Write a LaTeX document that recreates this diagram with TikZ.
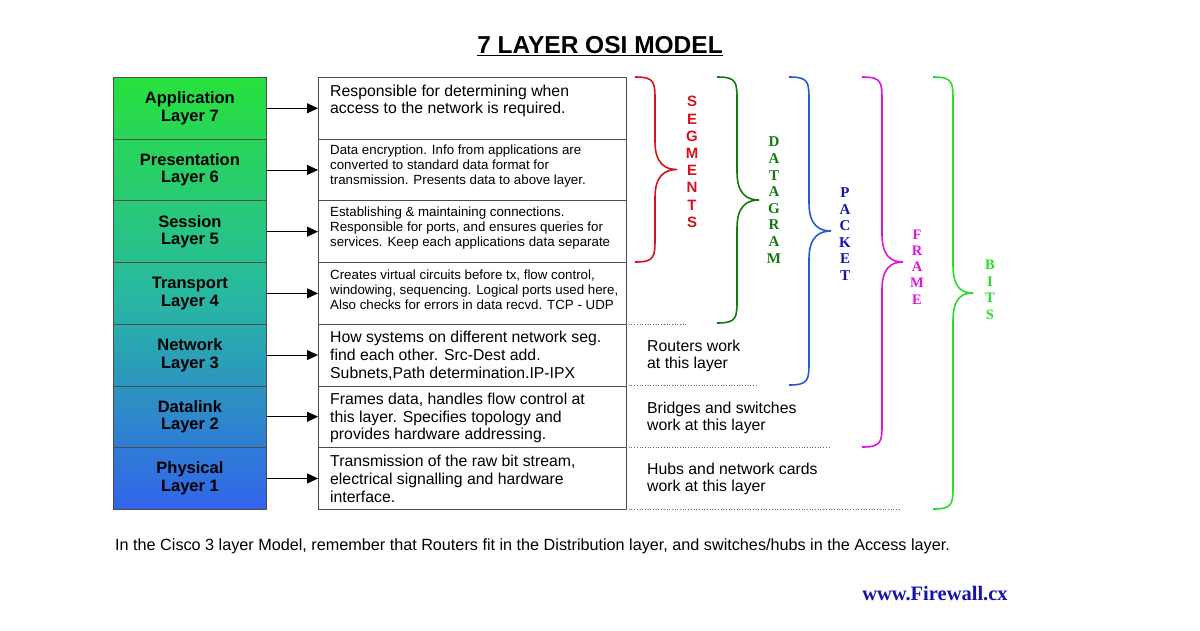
\documentclass[tikz,border=0pt]{standalone}
\usepackage{fontspec}
\setmainfont{Liberation Sans}
\newfontfamily\serifb{Liberation Serif}
\usetikzlibrary{arrows.meta}
\definecolor{cred}{RGB}{210,20,30}
\definecolor{cdgreen}{RGB}{20,120,20}
\definecolor{cblue}{RGB}{40,90,210}
\definecolor{cpblue}{RGB}{20,20,170}
\definecolor{cmag}{RGB}{220,20,220}
\definecolor{clgreen}{RGB}{40,220,40}
\definecolor{gtop}{RGB}{40,225,60}
\definecolor{gmid}{RGB}{40,185,160}
\definecolor{gbot}{RGB}{50,100,235}
\newcommand{\mybrace}[5]{% x0 ytop ybot xtip colour
  \pgfmathsetmacro{\ym}{(#2+#3)/2}\pgfmathsetmacro{\xa}{#1+20}
  \draw[#5,line width=1.6pt] (#1,#2) .. controls (\xa,#2) and (\xa,#2+5) .. (\xa,#2+25)
    -- (\xa,\ym-28) .. controls (\xa,\ym-6) and (#4-12,\ym) .. (#4,\ym)
    .. controls (#4-12,\ym) and (\xa,\ym+6) .. (\xa,\ym+28)
    -- (\xa,#3-25) .. controls (\xa,#3-5) and (\xa,#3) .. (#1,#3);}
\begin{document}
\begin{tikzpicture}[x=1pt,y=-1pt,
  lay/.style={minimum width=153pt,minimum height=61.7pt,inner sep=0pt,align=center,font=\fontsize{16.5}{17.5}\selectfont\bfseries},
  desc/.style={draw=black!70,line width=0.8pt,minimum width=308pt,minimum height=61.7pt,inner sep=0pt,anchor=north west},
  big/.style={font=\fontsize{15.8}{17.8}\selectfont},
  small/.style={font=\fontsize{13.3}{15.2}\selectfont},
  dtxt/.style={anchor=west,align=left,inner sep=0pt},
  arr/.style={-{Triangle[length=11pt,width=10pt]},line width=0.8pt},
  dots/.style={dotted,line width=0.7pt,black!60},
  vl/.style={align=center,inner sep=0pt,font=\bfseries}]
\useasboundingbox (0,0) rectangle (1200,630);
\node[font=\fontsize{24.5}{26}\selectfont\bfseries] (title) at (600,46) {\underline{7 LAYER OSI MODEL}};
\shade[top color=gtop,bottom color=gbot,middle color=gmid] (113,77) rectangle (266,509);
\foreach \i/\a/\b/\t [count=\k from 0] in {7/Application/Layer 7/x,6/Presentation/Layer 6/x,5/Session/Layer 5/x,4/Transport/Layer 4/x,3/Network/Layer 3/x,2/Datalink/Layer 2/x,1/Physical/Layer 1/x}{
  \pgfmathsetmacro{\yy}{77+61.7*\k}
  \node[lay,draw=black!70,line width=0.8pt,anchor=north west] (L\i) at (113,\yy) {\a\\\b};
  \node[desc] (R\i) at (318,\yy) {};
  \draw[arr] (L\i.east) -- (R\i.west);
}
\node[dtxt,big] (t7) at (330,101) {Responsible for determining when\\access to the network is required.};
\node[dtxt,small] (t6) at (330,166) {Data encryption. Info from applications are\\converted to standard data format for\\transmission. Presents data to above layer.};
\node[dtxt,small] (t5) at (330,228) {Establishing \& maintaining connections.\\Responsible for ports, and ensures queries for\\services. Keep each applications data separate};
\node[dtxt,small] (t4) at (330,290) {Creates virtual circuits before tx, flow control,\\windowing, sequencing. Logical ports used here,\\Also checks for errors in data recvd. TCP - UDP};
\node[dtxt,big] (t3) at (330,356) {How systems on different network seg.\\find each other. Src-Dest add.\\Subnets,Path determination.IP-IPX};
\node[dtxt,big] (t2) at (330,418) {Frames data, handles flow control at\\this layer. Specifies topology and\\provides hardware addressing.};
\node[dtxt,big] (t1) at (330,479) {Transmission of the raw bit stream,\\electrical signalling and hardware\\interface.};
\node[dtxt,big] (n3) at (647,356) {Routers work\\at this layer};
\node[dtxt,big] (n2) at (647,418) {Bridges and switches\\work at this layer};
\node[dtxt,big] (n1) at (647,479) {Hubs and network cards\\work at this layer};
\draw[dots] (626,324) -- (686,324);
\draw[dots] (626,385) -- (758,385);
\draw[dots] (626,447) -- (831,447);
\draw[dots] (626,509) -- (901,509);
\mybrace{635}{77}{262}{677}{cred}
\mybrace{717}{77}{323}{759}{cdgreen}
\mybrace{789}{77}{385}{831}{cblue}
\mybrace{862}{77}{447}{903}{cmag}
\mybrace{933}{77}{509}{973}{clgreen}
\node[vl,cred,font=\fontsize{15}{17.2}\selectfont\bfseries] (segs) at (692,162) {S\\E\\G\\M\\E\\N\\T\\S};
\node[vl,cdgreen,font=\fontsize{15}{16.6}\selectfont\serifb\bfseries] (dgram) at (774,200) {D\\A\\T\\A\\G\\R\\A\\M};
\node[vl,cpblue,font=\fontsize{15}{16.6}\selectfont\serifb\bfseries] (pkt) at (845,234) {P\\A\\C\\K\\E\\T};
\node[vl,cmag,font=\fontsize{14.5}{16.2}\selectfont\serifb\bfseries] (frm) at (917,267) {F\\R\\A\\M\\E};
\node[vl,clgreen,font=\fontsize{14.5}{16.6}\selectfont\serifb\bfseries] (bits) at (990,290) {B\\I\\T\\S};
\node[anchor=west,inner sep=0pt,font=\fontsize{16.2}{18}\selectfont] (foot) at (115,546) {In the Cisco 3 layer Model, remember that Routers fit in the Distribution layer, and switches/hubs in the Access layer.};
\node[cpblue,font=\fontsize{20.5}{22}\selectfont\serifb\bfseries] (www) at (935,594) {www.Firewall.cx};
\end{tikzpicture}
\end{document}
